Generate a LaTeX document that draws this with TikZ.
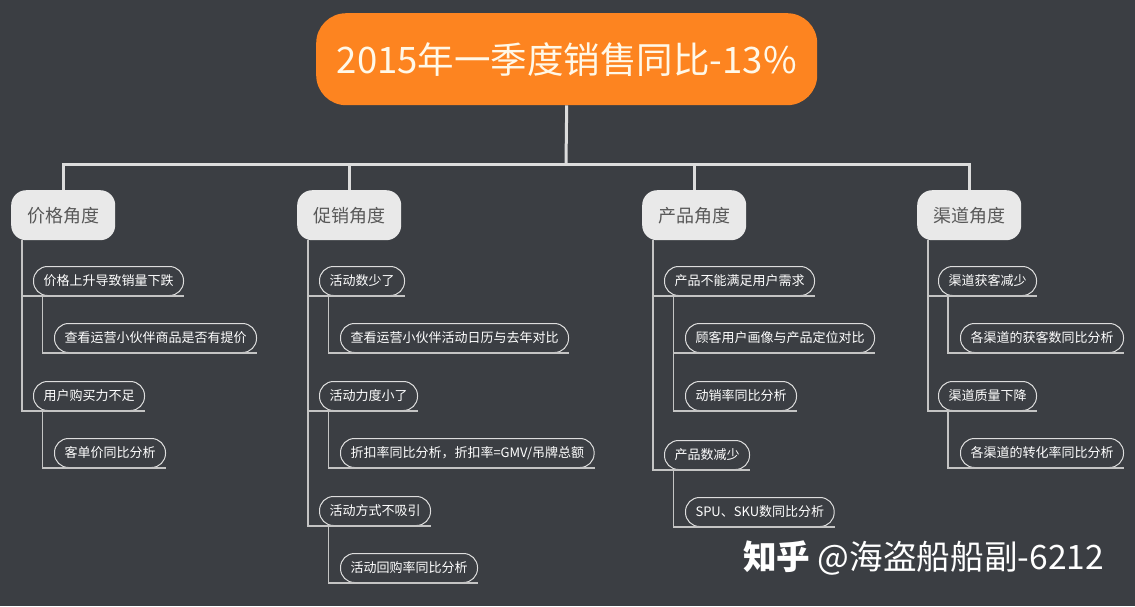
\documentclass[tikz,border=0pt]{standalone}
\usepackage{fontspec}
\setmainfont{Noto Sans CJK SC}
\definecolor{bgc}{HTML}{3B3E43}
\definecolor{orangec}{HTML}{FD8420}
\definecolor{roottext}{HTML}{FFF8E8}
\definecolor{catfill}{HTML}{E9E9E9}
\definecolor{cattext}{HTML}{585858}
\definecolor{trunkc}{HTML}{DCDCDC}
\definecolor{twigc}{HTML}{C4C4C4}
\definecolor{pillline}{HTML}{DDDDDD}
\begin{document}
\begin{tikzpicture}[x=1pt,y=-1pt,
  root/.style={fill=orangec, rounded corners=30pt, minimum width=501pt, minimum height=92pt,
    text=roottext, font=\fontsize{36.5}{42}\selectfont, inner sep=0pt, anchor=north west},
  cat/.style={fill=catfill, rounded corners=15pt, minimum width=104pt, minimum height=50pt,
    text=cattext, font=\fontsize{18}{22}\selectfont, inner sep=0pt, anchor=north west},
  pill/.style={draw=pillline, line width=1pt, rounded corners=14pt, minimum height=29pt,
    inner xsep=10pt, inner ysep=0pt, text=white, font=\fontsize{13}{16}\selectfont, anchor=south west},
  trunk/.style={draw=trunkc, line width=3pt},
  twig/.style={draw=twigc, line width=1.6pt},
  mark1/.style={font=\fontsize{33.6}{38}\selectfont, text=white, anchor=west, inner sep=0pt}
]
\fill[bgc] (0,0) rectangle (1135,606);
\useasboundingbox (0,0) rectangle (1135,606);

% root
\node[root] (root) at (316,13) {2015年一季度销售同比-13\%};
\coordinate (bus) at (566,164);

% categories
\node[cat] (n1) at (11,190) {价格角度};
\node[cat] (n2) at (297,190) {促销角度};
\node[cat] (n3) at (642,190) {产品角度};
\node[cat] (n4) at (917,190) {渠道角度};

\draw[trunk] (root.south) -- (bus);
\draw[trunk] (bus) -| (n1.north);
\draw[trunk] (bus) -| (n2.north);
\draw[trunk] (bus) -| (n3.north);
\draw[trunk] (bus) -| (n4.north);

% 价格角度
\node[pill] (a1) at (33,296) {价格上升导致销量下跌};
\node[pill] (a1a) at (54,353) {查看运营小伙伴商品是否有提价};
\node[pill] (a2) at (33,411) {用户购买力不足};
\node[pill] (a2a) at (54,468) {客单价同比分析};
\draw[twig] ([xshift=11pt]n1.south west) |- (a1.south east);
\draw[twig] ([xshift=11pt]n1.south west) |- (a2.south east);
\draw[twig] ([xshift=9.5pt]a1.south west) |- (a1a.south east);
\draw[twig] ([xshift=9.5pt]a2.south west) |- (a2a.south east);

% 促销角度
\node[pill] (b1) at (319,296) {活动数少了};
\node[pill] (b1a) at (340,353) {查看运营小伙伴活动日历与去年对比};
\node[pill] (b2) at (319,411) {活动力度小了};
\node[pill] (b2a) at (340,468) {折扣率同比分析，折扣率=GMV/吊牌总额};
\node[pill] (b3) at (319,526) {活动方式不吸引};
\node[pill] (b3a) at (340,583) {活动回购率同比分析};
\draw[twig] ([xshift=11pt]n2.south west) |- (b1.south east);
\draw[twig] ([xshift=11pt]n2.south west) |- (b2.south east);
\draw[twig] ([xshift=11pt]n2.south west) |- (b3.south east);
\draw[twig] ([xshift=9.5pt]b1.south west) |- (b1a.south east);
\draw[twig] ([xshift=9.5pt]b2.south west) |- (b2a.south east);
\draw[twig] ([xshift=9.5pt]b3.south west) |- (b3a.south east);

% 产品角度
\node[pill] (c1) at (664,296) {产品不能满足用户需求};
\node[pill] (c1a) at (685,353) {顾客用户画像与产品定位对比};
\node[pill] (c1b) at (685,411) {动销率同比分析};
\node[pill] (c2) at (664,470) {产品数减少};
\node[pill] (c2a) at (685,527) {SPU、SKU数同比分析};
\draw[twig] ([xshift=11pt]n3.south west) |- (c1.south east);
\draw[twig] ([xshift=11pt]n3.south west) |- (c2.south east);
\draw[twig] ([xshift=9.5pt]c1.south west) |- (c1a.south east);
\draw[twig] ([xshift=9.5pt]c1.south west) |- (c1b.south east);
\draw[twig] ([xshift=9.5pt]c2.south west) |- (c2a.south east);

% 渠道角度
\node[pill] (d1) at (938,296) {渠道获客减少};
\node[pill] (d1a) at (960,353) {各渠道的获客数同比分析};
\node[pill] (d2) at (938,411) {渠道质量下降};
\node[pill] (d2a) at (960,468) {各渠道的转化率同比分析};
\draw[twig] ([xshift=11pt]n4.south west) |- (d1.south east);
\draw[twig] ([xshift=11pt]n4.south west) |- (d2.south east);
\draw[twig] ([xshift=10pt]d1.south west) |- (d1a.south east);
\draw[twig] ([xshift=10pt]d2.south west) |- (d2a.south east);

% watermark
\node[mark1] (wm) at (743,558) {{\bfseries 知乎} @海盗船船副-6212};
\end{tikzpicture}
\end{document}
